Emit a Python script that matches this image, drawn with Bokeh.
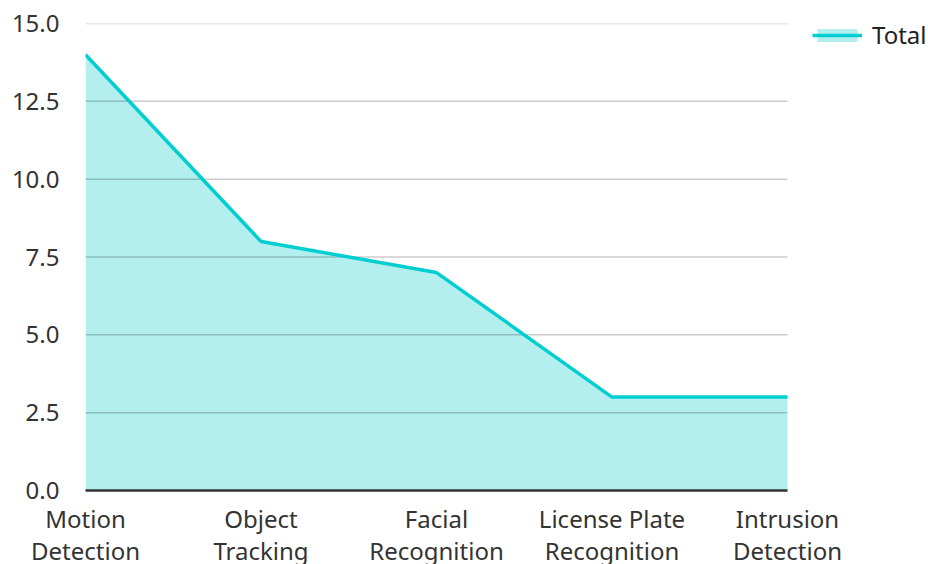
from bokeh.plotting import figure
from bokeh.models import (Range1d, FixedTicker, NumeralTickFormatter, Legend, LegendItem, ColumnDataSource)
from bokeh.embed import file_html
from bokeh.resources import INLINE

categories = ["Motion Detection", "Object Tracking", "Facial Recognition",
              "License Plate Recognition", "Intrusion Detection"]
tick_labels = ["Motion\nDetection", "Object\nTracking", "Facial\nRecognition",
               "License Plate\nRecognition", "Intrusion\nDetection"]
totals = [14, 8, 7, 3, 3]
y_ticks = [0, 2.5, 5, 7.5, 10, 12.5, 15]

xs = list(range(len(categories)))
src = ColumnDataSource(dict(x=xs, y=totals, y0=[0] * len(xs)))
n_last = len(xs) - 1
grid_src = ColumnDataSource(dict(x0=[0] * len(y_ticks), x1=[n_last] * len(y_ticks),
                                 y=y_ticks))

FONT = "Noto Sans"
W, H = 928, 570
LEFT, TOP, BOTTOM = 85, 23, 80
PLOT_W = 702  # pixel width of the data area; the rest of the frame hosts the legend
x_end = n_last * (W - LEFT) / PLOT_W

p = figure(width=W, height=H, output_backend="svg", toolbar_location=None,
           x_range=Range1d(0, x_end), y_range=Range1d(0, 15),
           min_border_left=LEFT, min_border_right=0, min_border_top=TOP,
           min_border_bottom=BOTTOM)
p.outline_line_color = None

area = p.varea(x="x", y1="y0", y2="y", source=src, fill_color="#b2efee")
p.segment(x0="x0", x1="x1", y0="y", y1="y", source=grid_src,
          line_color="#000000", line_alpha=0.2, line_width=1.5)
line = p.line(x="x", y="y", source=src, line_color="#00ced1", line_width=3.5)

p.xaxis.ticker = FixedTicker(ticks=xs)
p.xaxis.bounds = (0, n_last)
p.xaxis.major_label_overrides = {i: t for i, t in enumerate(tick_labels)}
p.yaxis.ticker = FixedTicker(ticks=y_ticks)
p.yaxis.formatter = NumeralTickFormatter(format="0.0")

for ax in (p.xaxis, p.yaxis):
    ax.major_tick_line_color = None
    ax.minor_tick_line_color = None
    ax.major_label_text_font = FONT
    ax.major_label_text_font_size = "24px"
    ax.major_label_text_color = "#333333"
p.yaxis.axis_line_color = None
p.yaxis.major_label_standoff = 20
p.xaxis.axis_line_color = "#333333"
p.xaxis.axis_line_width = 2.5
p.xaxis.major_label_standoff = 5
p.xaxis.major_label_text_line_height = 0.98

p.xgrid.grid_line_color = None
p.ygrid.grid_line_color = None

legend = Legend(items=[LegendItem(label="Total", renderers=[area, line])],
                location=(727, 439), padding=0, margin=0, border_line_color=None,
                background_fill_alpha=0, label_text_font=FONT,
                label_text_font_size="24px", label_text_color="#222222",
                glyph_width=50, glyph_height=16, label_standoff=10)
p.add_layout(legend, "center")

open("out.html", "w").write(file_html(p, INLINE))
